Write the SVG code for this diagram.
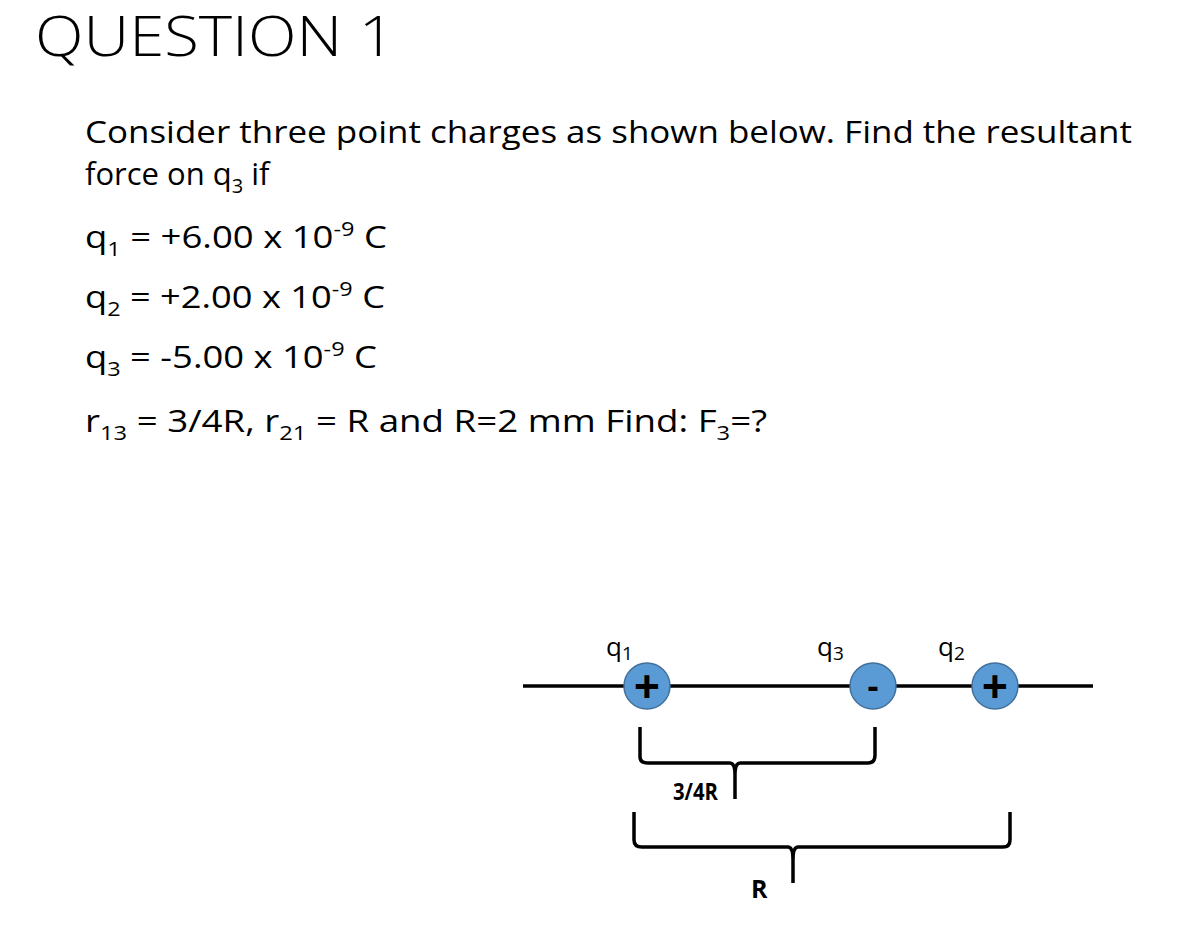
<svg xmlns="http://www.w3.org/2000/svg" width="1184" height="935" viewBox="0 0 1184 935">
<style>
text{font-family:"Open Sans","Liberation Sans",sans-serif;fill:#000}
.t{font-size:31px}
.s{font-size:20px}
.c{fill:#5b9bd5;stroke:#41719c;stroke-width:1.5}
.b{fill:none;stroke:#000;stroke-width:3.5}
.lbl{font-size:26px}
.pl{font-size:46px;font-weight:bold}
</style>
<rect width="1184" height="935" fill="#fff"/>
<text x="35" y="56" font-size="56" font-weight="300" textLength="360" lengthAdjust="spacingAndGlyphs">QUESTION 1</text>
<text class="t" x="85" y="143" textLength="1047" lengthAdjust="spacingAndGlyphs">Consider three point charges as shown below. Find the resultant</text>
<text class="t" x="85" y="185">force on q<tspan class="s" dy="8">3</tspan><tspan dy="-8"> if</tspan></text>
<text class="t" x="85" y="248" textLength="302" lengthAdjust="spacingAndGlyphs">q<tspan class="s" dy="8">1</tspan><tspan dy="-8"> =  +6.00 x 10</tspan><tspan class="s" dy="-12">-9</tspan><tspan dy="12"> C</tspan></text>
<text class="t" x="85" y="308" textLength="300" lengthAdjust="spacingAndGlyphs">q<tspan class="s" dy="8">2</tspan><tspan dy="-8"> =  +2.00 x 10</tspan><tspan class="s" dy="-12">-9</tspan><tspan dy="12"> C</tspan></text>
<text class="t" x="85" y="368" textLength="292" lengthAdjust="spacingAndGlyphs">q<tspan class="s" dy="8">3</tspan><tspan dy="-8"> =  -5.00 x 10</tspan><tspan class="s" dy="-12">-9</tspan><tspan dy="12"> C</tspan></text>
<text class="t" x="85" y="432" textLength="682" lengthAdjust="spacingAndGlyphs">r<tspan class="s" dy="8">13</tspan><tspan dy="-8"> = 3/4R, r</tspan><tspan class="s" dy="8">21</tspan><tspan dy="-8"> = R and R=2 mm   Find: F</tspan><tspan class="s" dy="8">3</tspan><tspan dy="-8">=?</tspan></text>
<g id="connectors">
<line x1="523" y1="686" x2="1093" y2="686" stroke="#000" stroke-width="3.5"/>
<path class="b" d="M640,727 V757 Q640,763 648,763 H730 Q735,763 735,775 V799 M735,775 Q735,763 740,763 H868 Q875,763 875,755 V727"/>
<path class="b" d="M634,812 V840 Q634,847 642,847 H788 Q793,847 793,860 V883 M793,860 Q793,847 798,847 H1003 Q1010,847 1010,840 V812"/>
</g>
<g id="q1"><circle class="c" cx="647" cy="686" r="23"/><text class="pl" x="647" y="703" text-anchor="middle">+</text><text class="lbl" x="606" y="656">q<tspan font-size="19" dy="4">1</tspan></text></g>
<g id="q3"><circle class="c" cx="873" cy="686" r="23"/><text x="873" y="698" font-size="34" text-anchor="middle" font-weight="bold">-</text><text class="lbl" x="817" y="656">q<tspan font-size="19" dy="4">3</tspan></text></g>
<g id="q2"><circle class="c" cx="995" cy="686" r="23"/><text class="pl" x="995" y="703" text-anchor="middle">+</text><text class="lbl" x="938" y="656">q<tspan font-size="19" dy="4">2</tspan></text></g>
<text x="673" y="800" font-size="24" font-weight="bold" textLength="45" lengthAdjust="spacingAndGlyphs">3/4R</text>
<text x="751" y="898" font-size="25" font-weight="bold">R</text>
</svg>
